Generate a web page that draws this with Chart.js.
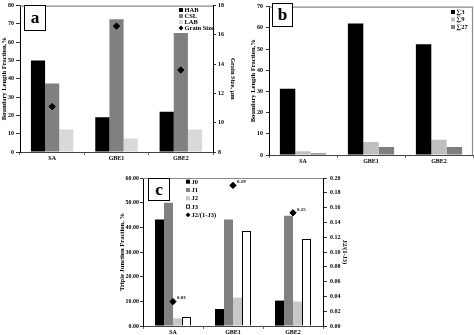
<!DOCTYPE html>
<html><head><meta charset="utf-8">
<script src="https://cdn.jsdelivr.net/npm/chart.js@4.4.1/dist/chart.umd.min.js"></script>
<style>
html,body{margin:0;padding:0;background:#fff}
body{width:474px;height:335px;position:relative;overflow:hidden}
canvas{position:absolute}
.tag{position:absolute;border:1.6px solid #000;background:#fff;font:bold 17px "Liberation Serif",serif;color:#000;display:flex;align-items:center;justify-content:center;box-sizing:border-box;z-index:5}
</style></head><body>
<canvas id="ca" width="240" height="170" style="left:0;top:0"></canvas>
<canvas id="cb" width="234" height="170" style="left:240px;top:0"></canvas>
<canvas id="cc" width="280" height="170" style="left:100px;top:165px"></canvas>
<div class="tag" style="left:24px;top:5px;width:22px;height:26px">a</div>
<div class="tag" style="left:272px;top:3px;width:21px;height:24px">b</div>
<div class="tag" style="left:148px;top:178px;width:22px;height:23px">c</div>
<script>
// ---------- data ----------
const categories = ['SA', 'GBE1', 'GBE2'];
// panel a
const habValues = [50, 19, 22];
const cslValues = [37.5, 72.5, 65];
const labValues = [12.3, 7.4, 12.3];
const grainSize = [11.1, 16.6, 13.6];
// panel b
const sigma3Values = [31.2, 62, 52.2];
const sigma9Values = [1.8, 6.1, 7.2];
const sigma27Values = [0.8, 3.8, 3.8];
// panel c
const j0Values = [43.2, 6.9, 10.3];
const j1Values = [50, 43.2, 44.7];
const j2Values = [3.1, 11.5, 9.9];
const j3Values = [3.6, 38.5, 35.3];
const j2RatioValues = [0.033, 0.19, 0.153];

const FAM = '"Liberation Serif", serif';
const tickFont = {family: FAM, size: 6, weight: 'bold'};
const titleFont = {family: FAM, size: 6.5, weight: 'bold'};

const deco = {
  id: 'deco',
  afterDatasetsDraw(chart, args, o) {
    const ctx = chart.ctx, a = chart.chartArea;
    ctx.save();
    ctx.strokeStyle = '#8a8a8a'; ctx.lineWidth = 1.2;
    ctx.beginPath();
    ctx.moveTo(a.left, a.top + 0.5); ctx.lineTo(a.right, a.top + 0.5);
    if (o.rightFrame) { ctx.moveTo(a.right - 0.5, a.top); ctx.lineTo(a.right - 0.5, a.bottom); }
    ctx.stroke();
    // legend
    const L = o.legend;
    ctx.font = 'bold ' + L.size + 'px ' + FAM;
    ctx.textBaseline = 'middle'; ctx.textAlign = 'left';
    chart.data.datasets.forEach((ds, i) => {
      const y = L.y + i * L.step, x = L.x;
      if (ds.type === 'line') {
        ctx.fillStyle = '#000';
        ctx.beginPath();
        ctx.moveTo(x + 2, y - 2.4); ctx.lineTo(x + 4.4, y); ctx.lineTo(x + 2, y + 2.4); ctx.lineTo(x - 0.4, y);
        ctx.closePath(); ctx.fill();
      } else {
        ctx.fillStyle = ds.backgroundColor;
        ctx.fillRect(x, y - 2, 4, 4);
        if (ds.borderWidth) { ctx.strokeStyle = '#000'; ctx.lineWidth = 0.8; ctx.strokeRect(x + 0.4, y - 1.6, 3.2, 3.2); }
      }
      ctx.fillStyle = '#000';
      ctx.fillText(ds.label, x + 5.5, y + 0.3);
    });
    // point value labels
    if (o.pointLabels) {
      chart.data.datasets.forEach((ds, i) => {
        if (ds.type !== 'line') return;
        const meta = chart.getDatasetMeta(i);
        ctx.font = 'bold 5px ' + FAM;
        meta.data.forEach((pt, k) => {
          ctx.fillText(ds.data[k].toFixed(2), pt.x + 4, pt.y - 3.5);
        });
      });
    }
    ctx.restore();
  }
};

function yAxis(min, max, step, title, width, titlePad, tickLen, tickPad, fmt, pos) {
  return {
    position: pos || 'left', min, max,
    grid: {display: true, drawOnChartArea: false, tickLength: tickLen, color: '#000', lineWidth: 0.8},
    border: {display: true, color: '#000', width: 1},
    ticks: {stepSize: step, font: tickFont, color: '#000', padding: tickPad, callback: fmt || (v => v)},
    title: {display: true, text: title, font: titleFont, color: '#000', padding: {top: titlePad, bottom: 0}},
    afterFit: s => { s.width = width; }
  };
}
function xAxis(height, tickLen, pad) {
  return {
    offset: true,
    grid: {display: true, drawOnChartArea: false, offset: true, tickLength: tickLen, color: '#444', lineWidth: 0.8},
    border: {display: true, color: '#444', width: 1},
    ticks: {font: tickFont, color: '#000', padding: pad, maxRotation: 0},
    afterFit: s => { s.height = height; }
  };
}
const base = {responsive: false, devicePixelRatio: 1, animation: false, plugins: {legend: {display: false}, tooltip: {enabled: false}}};

// ---------- panel a ----------
new Chart(document.getElementById('ca'), {
  data: {labels: categories, datasets: [
    {type: 'bar', label: 'HAB', data: habValues, backgroundColor: '#000', yAxisID: 'y'},
    {type: 'bar', label: 'CSL', data: cslValues, backgroundColor: '#808080', yAxisID: 'y'},
    {type: 'bar', label: 'LAB', data: labValues, backgroundColor: '#d9d9d9', yAxisID: 'y'},
    {type: 'line', label: 'Grain Size', data: grainSize, showLine: false, pointStyle: 'rectRot', pointRadius: 3.2, backgroundColor: '#000', borderColor: '#000', yAxisID: 'y1', order: -1}
  ]},
  options: Object.assign({}, base, {
    datasets: {bar: {categoryPercentage: 0.66, barPercentage: 1}},
    layout: {padding: {top: 5, right: 3, left: 0, bottom: 0}},
    scales: {
      x: xAxis(18, 3, 0),
      y: yAxis(0, 80, 10, 'Boundary Length Fraction,%', 20, 0, 4, 2),
      y1: yAxis(8, 18, 2, 'Grain Size, \u00b5m', 24, 0.5, 3, 2, null, 'right')
    },
    plugins: Object.assign({}, base.plugins, {deco: {legend: {x: 179, y: 10, step: 6, size: 6.5}}})
  }),
  plugins: [deco]
});

// ---------- panel b ----------
new Chart(document.getElementById('cb'), {
  data: {labels: categories, datasets: [
    {type: 'bar', label: '\u22113', data: sigma3Values, backgroundColor: '#000'},
    {type: 'bar', label: '\u22119', data: sigma9Values, backgroundColor: '#bfbfbf'},
    {type: 'bar', label: '\u221127', data: sigma27Values, backgroundColor: '#7f7f7f'}
  ]},
  options: Object.assign({}, base, {
    datasets: {bar: {categoryPercentage: 0.68, barPercentage: 1}},
    layout: {padding: {top: 3, right: 1, left: 0, bottom: 0}},
    scales: {
      x: xAxis(15, 3, 0),
      y: yAxis(0, 70, 10, 'Boundary Length Fraction,%', 29, 9, 3, 3)
    },
    plugins: Object.assign({}, base.plugins, {deco: {rightFrame: true, legend: {x: 211, y: 12, step: 7.5, size: 6.5}}})
  }),
  plugins: [deco]
});

// ---------- panel c ----------
new Chart(document.getElementById('cc'), {
  data: {labels: categories, datasets: [
    {type: 'bar', label: 'J0', data: j0Values, backgroundColor: '#000', yAxisID: 'y'},
    {type: 'bar', label: 'J1', data: j1Values, backgroundColor: '#808080', yAxisID: 'y'},
    {type: 'bar', label: 'J2', data: j2Values, backgroundColor: '#c8c8c8', yAxisID: 'y'},
    {type: 'bar', label: 'J3', data: j3Values, backgroundColor: '#fff', borderColor: '#000', borderWidth: 1, yAxisID: 'y'},
    {type: 'line', label: 'J2/(1-J3)', data: j2RatioValues, showLine: false, pointStyle: 'rectRot', pointRadius: 3.2, backgroundColor: '#000', borderColor: '#000', yAxisID: 'y1', order: -1}
  ]},
  options: Object.assign({}, base, {
    datasets: {bar: {categoryPercentage: 0.6, barPercentage: 1}},
    layout: {padding: {top: 13, right: 27, left: 0, bottom: 0}},
    scales: {
      x: xAxis(9, 3, 0),
      y: yAxis(0, 60, 10, 'Triple Junction Fraction, %', 43, 18.5, 3, 1, v => v.toFixed(2)),
      y1: yAxis(0, 0.2, 0.02, 'J2/(1-J3)', 30, 4, 4, 3, v => v.toFixed(2), 'right')
    },
    plugins: Object.assign({}, base.plugins, {deco: {pointLabels: true, legend: {x: 86, y: 16.7, step: 8.3, size: 6.5}}})
  }),
  plugins: [deco]
});
</script>
</body></html>
